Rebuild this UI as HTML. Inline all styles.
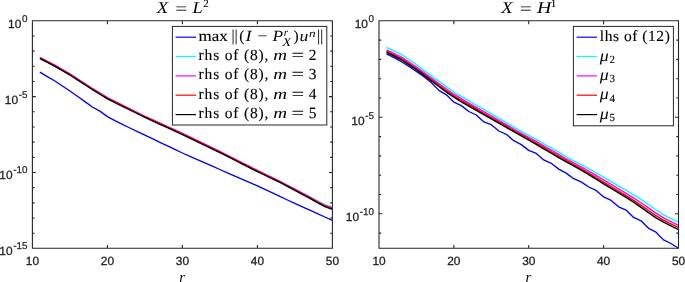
<!DOCTYPE html>
<html><head><meta charset="utf-8"><title>plot</title>
<style>
html,body{margin:0;padding:0;background:#fff}
svg{display:block}
text{text-rendering:geometricPrecision}
.t{font-family:"Liberation Sans",sans-serif;font-size:11.9px;fill:#262626;stroke:#262626;stroke-width:0.3px}
.e{font-family:"Liberation Sans",sans-serif;font-size:9.9px;fill:#262626;stroke:#262626;stroke-width:0.25px}
.s{font-family:"Liberation Serif",serif;fill:#000;stroke:#000;stroke-width:0.12px}
.i{font-family:"Liberation Serif",serif;font-style:italic;fill:#000}
</style></head><body>
<svg width="685" height="282" viewBox="0 0 685 282">
<rect width="685" height="282" fill="#fff"/>
<path d="M39.90,72.20 L47.40,76.60 L54.90,81.00 L62.40,86.00 L69.90,91.00 L77.40,96.30 L84.90,101.60 L92.40,107.00 L99.90,111.10 L107.40,116.60 L114.90,120.60 L122.40,124.30 L129.90,128.00 L137.40,131.57 L144.90,135.14 L152.40,138.71 L159.90,142.29 L167.40,145.86 L174.90,149.43 L182.40,153.00 L189.90,156.30 L197.40,159.60 L204.90,162.90 L212.40,166.20 L219.90,169.50 L227.40,172.76 L234.90,176.02 L242.40,179.28 L249.90,182.54 L257.40,185.80 L264.90,189.35 L272.40,192.90 L279.90,196.45 L287.40,200.00 L294.90,203.40 L302.40,206.80 L309.90,210.20 L317.40,213.60 L324.90,217.00 L332.40,220.40" fill="none" stroke="#0000ff" stroke-width="1.35" stroke-linejoin="round"/>
<path d="M39.90,57.50 L47.40,61.40 L54.90,65.30 L62.40,69.65 L69.90,74.00 L77.40,78.87 L84.90,83.73 L92.40,88.60 L99.90,93.20 L107.40,97.80 L114.90,101.52 L122.40,105.24 L129.90,108.96 L137.40,112.68 L144.90,116.40 L152.40,119.82 L159.90,123.24 L167.40,126.66 L174.90,130.08 L182.40,133.50 L189.90,137.12 L197.40,140.74 L204.90,144.36 L212.40,147.98 L219.90,151.60 L227.40,155.40 L234.90,159.20 L242.40,163.00 L249.90,166.80 L257.40,170.60 L264.90,174.20 L272.40,177.80 L279.90,181.40 L287.40,185.40 L294.90,189.22 L302.40,193.03 L309.90,196.85 L317.40,200.90 L324.90,204.68 L332.40,207.20" fill="none" stroke="#00ffff" stroke-width="1.35" stroke-linejoin="round"/>
<path d="M39.90,57.35 L47.40,61.25 L54.90,65.15 L62.40,69.50 L69.90,73.85 L77.40,78.72 L84.90,83.58 L92.40,88.45 L99.90,93.05 L107.40,97.65 L114.90,101.37 L122.40,105.09 L129.90,108.81 L137.40,112.53 L144.90,116.25 L152.40,119.67 L159.90,123.09 L167.40,126.51 L174.90,129.93 L182.40,133.35 L189.90,136.97 L197.40,140.59 L204.90,144.21 L212.40,147.83 L219.90,151.45 L227.40,155.25 L234.90,159.05 L242.40,162.85 L249.90,166.65 L257.40,170.45 L264.90,174.05 L272.40,177.65 L279.90,181.25 L287.40,185.25 L294.90,189.22 L302.40,193.20 L309.90,197.18 L317.40,201.38 L324.90,205.32 L332.40,208.00" fill="none" stroke="#ff00ff" stroke-width="1.35" stroke-linejoin="round"/>
<path d="M39.90,57.90 L47.40,61.80 L54.90,65.70 L62.40,70.05 L69.90,74.40 L77.40,79.27 L84.90,84.13 L92.40,89.00 L99.90,93.60 L107.40,98.20 L114.90,101.92 L122.40,105.64 L129.90,109.36 L137.40,113.08 L144.90,116.80 L152.40,120.22 L159.90,123.64 L167.40,127.06 L174.90,130.48 L182.40,133.90 L189.90,137.52 L197.40,141.14 L204.90,144.76 L212.40,148.38 L219.90,152.00 L227.40,155.80 L234.90,159.60 L242.40,163.40 L249.90,167.20 L257.40,171.00 L264.90,174.60 L272.40,178.20 L279.90,181.80 L287.40,185.80 L294.90,189.80 L302.40,193.80 L309.90,197.80 L317.40,202.03 L324.90,206.00 L332.40,208.70" fill="none" stroke="#ff0000" stroke-width="1.35" stroke-linejoin="round"/>
<path d="M39.90,58.55 L47.40,62.45 L54.90,66.35 L62.40,70.70 L69.90,75.05 L77.40,79.92 L84.90,84.78 L92.40,89.65 L99.90,94.25 L107.40,98.85 L114.90,102.57 L122.40,106.29 L129.90,110.01 L137.40,113.73 L144.90,117.45 L152.40,120.87 L159.90,124.29 L167.40,127.71 L174.90,131.13 L182.40,134.55 L189.90,138.17 L197.40,141.79 L204.90,145.41 L212.40,149.03 L219.90,152.65 L227.40,156.45 L234.90,160.25 L242.40,164.05 L249.90,167.85 L257.40,171.65 L264.90,175.25 L272.40,178.85 L279.90,182.45 L287.40,186.45 L294.90,190.45 L302.40,194.45 L309.90,198.45 L317.40,202.68 L324.90,206.65 L332.40,209.35" fill="none" stroke="#000000" stroke-width="1.35" stroke-linejoin="round"/>
<path d="M386.49,53.90 L393.98,57.70 L401.46,61.70 L408.95,66.50 L416.44,71.40 L423.93,76.80 L431.41,82.70 L438.90,90.40 L446.39,94.80 L453.88,102.10 L461.36,105.60 L468.85,111.50 L476.34,115.00 L483.82,121.90 L491.31,124.70 L498.80,131.00 L506.29,134.30 L513.77,140.70 L521.26,144.60 L528.75,150.40 L536.24,153.40 L543.73,159.90 L551.21,163.30 L558.70,169.10 L566.19,173.10 L573.67,178.70 L581.16,181.90 L588.65,187.00 L596.14,190.40 L603.62,196.90 L611.11,200.40 L618.60,206.80 L626.09,210.10 L633.58,217.40 L641.06,220.80 L648.55,228.30 L656.04,232.20 L663.52,239.90 L671.01,243.50 L678.50,248.30" fill="none" stroke="#0000ff" stroke-width="1.35" stroke-linejoin="round"/>
<path d="M386.49,47.40 L393.98,50.90 L401.46,54.40 L408.95,59.50 L416.44,64.60 L423.93,70.41 L431.41,75.80 L438.90,81.20 L446.39,86.69 L453.88,92.12 L461.36,96.47 L468.85,100.83 L476.34,105.04 L483.82,109.26 L491.31,113.67 L498.80,118.13 L506.29,122.59 L513.77,127.05 L521.26,131.39 L528.75,135.35 L536.24,139.30 L543.73,143.58 L551.21,147.89 L558.70,152.21 L566.19,156.52 L573.67,160.79 L581.16,164.72 L588.65,168.64 L596.14,172.80 L603.62,177.20 L611.11,181.60 L618.60,186.00 L626.09,190.40 L633.58,194.89 L641.06,199.39 L648.55,204.56 L656.04,209.78 L663.52,214.95 L671.01,218.57 L678.50,222.20" fill="none" stroke="#00ffff" stroke-width="1.45" stroke-linejoin="round"/>
<path d="M386.49,49.90 L393.98,53.45 L401.46,57.09 L408.95,62.04 L416.44,67.00 L423.93,72.66 L431.41,78.09 L438.90,83.53 L446.39,89.01 L453.88,94.24 L461.36,98.73 L468.85,103.05 L476.34,107.29 L483.82,111.53 L491.31,115.88 L498.80,120.27 L506.29,124.65 L513.77,129.02 L521.26,133.28 L528.75,137.33 L536.24,141.45 L543.73,145.77 L551.21,150.11 L558.70,154.45 L566.19,158.76 L573.67,162.97 L581.16,166.98 L588.65,171.17 L596.14,175.50 L603.62,179.97 L611.11,184.43 L618.60,188.89 L626.09,193.34 L633.58,197.96 L641.06,202.75 L648.55,207.94 L656.04,213.16 L663.52,217.97 L671.01,221.64 L678.50,225.31" fill="none" stroke="#ff00ff" stroke-width="1.45" stroke-linejoin="round"/>
<path d="M386.49,51.22 L393.98,54.86 L401.46,58.64 L408.95,63.56 L416.44,68.49 L423.93,74.11 L431.41,79.64 L438.90,85.16 L446.39,90.71 L453.88,95.85 L461.36,100.45 L468.85,104.74 L476.34,109.00 L483.82,113.26 L491.31,117.57 L498.80,121.89 L506.29,126.22 L513.77,130.52 L521.26,134.72 L528.75,138.83 L536.24,143.08 L543.73,147.44 L551.21,151.80 L558.70,156.16 L566.19,160.46 L573.67,164.63 L581.16,168.70 L588.65,173.10 L596.14,177.55 L603.62,182.07 L611.11,186.59 L618.60,191.09 L626.09,195.57 L633.58,200.29 L641.06,205.31 L648.55,210.51 L656.04,215.73 L663.52,220.27 L671.01,223.97 L678.50,227.68" fill="none" stroke="#ff0000" stroke-width="1.45" stroke-linejoin="round"/>
<path d="M386.49,52.30 L393.98,56.00 L401.46,59.90 L408.95,64.80 L416.44,69.70 L423.93,75.30 L431.41,80.89 L438.90,86.49 L446.39,92.09 L453.88,97.17 L461.36,101.85 L468.85,106.12 L476.34,110.39 L483.82,114.66 L491.31,118.94 L498.80,123.22 L506.29,127.49 L513.77,131.73 L521.26,135.90 L528.75,140.06 L536.24,144.41 L543.73,148.79 L551.21,153.17 L558.70,157.55 L566.19,161.84 L573.67,165.97 L581.16,170.10 L588.65,174.66 L596.14,179.22 L603.62,183.79 L611.11,188.35 L618.60,192.88 L626.09,197.39 L633.58,202.18 L641.06,207.39 L648.55,212.61 L656.04,217.82 L663.52,222.14 L671.01,225.87 L678.50,229.60" fill="none" stroke="#000000" stroke-width="1.45" stroke-linejoin="round"/>
<path d="M32.4,20.8H332.4V248.3H32.4ZM107.40,248.3v-3.4M107.40,20.8v3.4M182.40,248.3v-3.4M182.40,20.8v3.4M257.40,248.3v-3.4M257.40,20.8v3.4M32.4,35.97h2.2M332.4,35.97h-2.2M32.4,51.14h2.2M332.4,51.14h-2.2M32.4,66.31h2.2M332.4,66.31h-2.2M32.4,81.48h2.2M332.4,81.48h-2.2M32.4,96.65h3.4M332.4,96.65h-3.4M32.4,111.82h2.2M332.4,111.82h-2.2M32.4,126.99h2.2M332.4,126.99h-2.2M32.4,142.16h2.2M332.4,142.16h-2.2M32.4,157.33h2.2M332.4,157.33h-2.2M32.4,172.50h3.4M332.4,172.50h-3.4M32.4,187.67h2.2M332.4,187.67h-2.2M32.4,202.84h2.2M332.4,202.84h-2.2M32.4,218.01h2.2M332.4,218.01h-2.2M32.4,233.18h2.2M332.4,233.18h-2.2" fill="none" stroke="#262626" stroke-width="1.1"/>
<text class="t" x="32.40" y="264.8" text-anchor="middle">10</text>
<text class="t" x="107.40" y="264.8" text-anchor="middle">20</text>
<text class="t" x="182.40" y="264.8" text-anchor="middle">30</text>
<text class="t" x="257.40" y="264.8" text-anchor="middle">40</text>
<text class="t" x="332.40" y="264.8" text-anchor="middle">50</text>
<text class="t" x="21.30" y="28.20" text-anchor="end">10</text>
<text class="e" x="22.00" y="22.10">0</text>
<text class="t" x="18.00" y="104.05" text-anchor="end">10</text>
<text class="e" x="18.70" y="97.95">-5</text>
<text class="t" x="12.50" y="179.30" text-anchor="end">10</text>
<text class="e" x="13.20" y="173.20">-10</text>
<text class="t" x="12.50" y="255.35" text-anchor="end">10</text>
<text class="e" x="13.20" y="249.25">-15</text>
<path d="M379.0,20.8H678.5V248.3H379.0ZM453.88,248.3v-3.4M453.88,20.8v3.4M528.75,248.3v-3.4M528.75,20.8v3.4M603.62,248.3v-3.4M603.62,20.8v3.4M379.0,40.10h2.2M678.5,40.10h-2.2M379.0,59.40h2.2M678.5,59.40h-2.2M379.0,78.70h2.2M678.5,78.70h-2.2M379.0,98.00h2.2M678.5,98.00h-2.2M379.0,117.30h3.4M678.5,117.30h-3.4M379.0,136.60h2.2M678.5,136.60h-2.2M379.0,155.90h2.2M678.5,155.90h-2.2M379.0,175.20h2.2M678.5,175.20h-2.2M379.0,194.50h2.2M678.5,194.50h-2.2M379.0,213.80h3.4M678.5,213.80h-3.4M379.0,233.10h2.2M678.5,233.10h-2.2" fill="none" stroke="#262626" stroke-width="1.1"/>
<text class="t" x="379.00" y="264.8" text-anchor="middle">10</text>
<text class="t" x="453.88" y="264.8" text-anchor="middle">20</text>
<text class="t" x="528.75" y="264.8" text-anchor="middle">30</text>
<text class="t" x="603.62" y="264.8" text-anchor="middle">40</text>
<text class="t" x="678.50" y="264.8" text-anchor="middle">50</text>
<text class="t" x="367.90" y="28.20" text-anchor="end">10</text>
<text class="e" x="368.60" y="22.10">0</text>
<text class="t" x="364.60" y="124.70" text-anchor="end">10</text>
<text class="e" x="365.30" y="118.60">-5</text>
<text class="t" x="359.10" y="221.20" text-anchor="end">10</text>
<text class="e" x="359.80" y="215.10">-10</text>
<text class="i" font-size="16.5" x="156.80" y="13.30" textLength="11.4" lengthAdjust="spacingAndGlyphs">X</text><text class="s" font-size="16.5" x="175.40" y="13.60" textLength="11.6" lengthAdjust="spacingAndGlyphs">=</text><text class="i" font-size="16.5" x="192.40" y="13.30" textLength="10.2" lengthAdjust="spacingAndGlyphs">L</text><text class="s" font-size="11" x="203.20" y="7.10">2</text>
<text class="i" font-size="16.5" x="501.30" y="13.30" textLength="11.4" lengthAdjust="spacingAndGlyphs">X</text><text class="s" font-size="16.5" x="519.90" y="13.60" textLength="11.6" lengthAdjust="spacingAndGlyphs">=</text><text class="i" font-size="16.5" x="536.90" y="13.30" textLength="14.4" lengthAdjust="spacingAndGlyphs">H</text><text class="s" font-size="11" x="550.70" y="7.10">1</text>
<text class="i" font-size="15" x="182.20" y="281.70" text-anchor="middle">r</text>
<text class="i" font-size="15" x="528.50" y="281.70" text-anchor="middle">r</text>
<rect x="172.4" y="26.4" width="154.4" height="98.6" fill="#fff" stroke="#262626" stroke-width="1"/>
<path d="M175.6,37.2H196" stroke="#0000ff" stroke-width="1.2"/>
<path d="M175.6,56.5H196" stroke="#00ffff" stroke-width="1.2"/>
<path d="M175.6,75.9H196" stroke="#ff00ff" stroke-width="1.2"/>
<path d="M175.6,95.2H196" stroke="#ff0000" stroke-width="1.2"/>
<path d="M175.6,114.6H196" stroke="#000000" stroke-width="1.2"/>
<text class="s" font-size="15.5" x="198.60" y="41.00" textLength="29.2" lengthAdjust="spacingAndGlyphs">max</text>
<text font-family="DejaVu Sans Mono, monospace" fill="#3a3a3a" font-size="12.8" transform="translate(230.65,41.10) scale(1,1.17)" x="0" y="0">‖</text>
<text class="s" font-size="15.5" x="239.20" y="41.00">(</text>
<text class="i" font-size="15.5" x="245.40" y="41.00" textLength="6.0" lengthAdjust="spacingAndGlyphs">I</text>
<text class="s" font-size="15.5" x="257.40" y="41.00" textLength="9.8" lengthAdjust="spacingAndGlyphs">−</text>
<text class="i" font-size="15.5" x="272.60" y="41.00" textLength="10.6" lengthAdjust="spacingAndGlyphs">P</text>
<text class="i" font-size="11" x="283.80" y="36.10">r</text>
<text class="i" font-size="12" x="282.40" y="46.00" textLength="8.6" lengthAdjust="spacingAndGlyphs">X</text>
<text class="s" font-size="15.5" x="293.40" y="41.00">)</text>
<text class="i" font-size="15.5" x="299.40" y="41.00" textLength="8.8" lengthAdjust="spacingAndGlyphs">u</text>
<text class="i" font-size="11" x="309.00" y="36.70" textLength="6.6" lengthAdjust="spacingAndGlyphs">n</text>
<text font-family="DejaVu Sans Mono, monospace" fill="#3a3a3a" font-size="12.8" transform="translate(316.25,41.10) scale(1,1.17)" x="0" y="0">‖</text>
<text class="s" font-size="15.5" x="198.60" y="59.90" textLength="69.8" lengthAdjust="spacing">rhs of (8),</text>
<text class="i" font-size="15.5" x="273.20" y="59.90" textLength="13.8" lengthAdjust="spacingAndGlyphs">m</text>
<text class="s" font-size="15.5" x="291.60" y="59.90" textLength="12.6" lengthAdjust="spacingAndGlyphs">=</text>
<text class="s" font-size="15.5" x="308.80" y="59.90">2</text>
<text class="s" font-size="15.5" x="198.60" y="79.30" textLength="69.8" lengthAdjust="spacing">rhs of (8),</text>
<text class="i" font-size="15.5" x="273.20" y="79.30" textLength="13.8" lengthAdjust="spacingAndGlyphs">m</text>
<text class="s" font-size="15.5" x="291.60" y="79.30" textLength="12.6" lengthAdjust="spacingAndGlyphs">=</text>
<text class="s" font-size="15.5" x="308.80" y="79.30">3</text>
<text class="s" font-size="15.5" x="198.60" y="98.60" textLength="69.8" lengthAdjust="spacing">rhs of (8),</text>
<text class="i" font-size="15.5" x="273.20" y="98.60" textLength="13.8" lengthAdjust="spacingAndGlyphs">m</text>
<text class="s" font-size="15.5" x="291.60" y="98.60" textLength="12.6" lengthAdjust="spacingAndGlyphs">=</text>
<text class="s" font-size="15.5" x="308.80" y="98.60">4</text>
<text class="s" font-size="15.5" x="198.60" y="118.00" textLength="69.8" lengthAdjust="spacing">rhs of (8),</text>
<text class="i" font-size="15.5" x="273.20" y="118.00" textLength="13.8" lengthAdjust="spacingAndGlyphs">m</text>
<text class="s" font-size="15.5" x="291.60" y="118.00" textLength="12.6" lengthAdjust="spacingAndGlyphs">=</text>
<text class="s" font-size="15.5" x="308.80" y="118.00">5</text>
<rect x="573.4" y="26.4" width="100" height="99.4" fill="#fff" stroke="#262626" stroke-width="1"/>
<path d="M576.6,37.2H597" stroke="#0000ff" stroke-width="1.2"/>
<path d="M576.6,56.5H597" stroke="#00ffff" stroke-width="1.2"/>
<path d="M576.6,75.9H597" stroke="#ff00ff" stroke-width="1.2"/>
<path d="M576.6,95.2H597" stroke="#ff0000" stroke-width="1.2"/>
<path d="M576.6,114.6H597" stroke="#000000" stroke-width="1.2"/>
<text class="s" font-size="15.5" x="599.80" y="41.10" textLength="70" lengthAdjust="spacing">lhs of (12)</text>
<text class="i" font-size="16.5" x="599.80" y="60.60" textLength="9.0" lengthAdjust="spacingAndGlyphs">μ</text>
<text class="s" font-size="11" x="609.40" y="63.00">2</text>
<text class="i" font-size="16.5" x="599.80" y="80.00" textLength="9.0" lengthAdjust="spacingAndGlyphs">μ</text>
<text class="s" font-size="11" x="609.40" y="82.40">3</text>
<text class="i" font-size="16.5" x="599.80" y="99.30" textLength="9.0" lengthAdjust="spacingAndGlyphs">μ</text>
<text class="s" font-size="11" x="609.40" y="101.70">4</text>
<text class="i" font-size="16.5" x="599.80" y="118.70" textLength="9.0" lengthAdjust="spacingAndGlyphs">μ</text>
<text class="s" font-size="11" x="609.40" y="121.10">5</text>
</svg></body></html>
